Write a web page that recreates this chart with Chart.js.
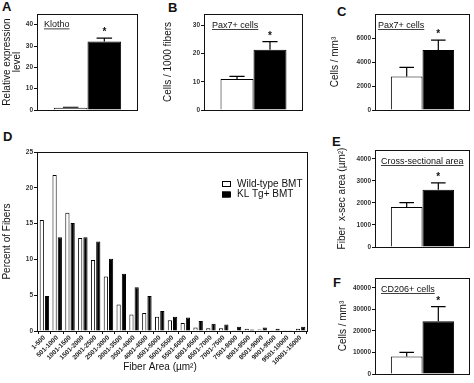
<!DOCTYPE html>
<html>
<head>
<meta charset="utf-8">
<script src="https://cdn.jsdelivr.net/npm/chart.js@4.4.1/dist/chart.umd.min.js"></script>
<style>
  body { margin: 0; background: #fff; width: 474px; height: 383px; overflow: hidden; position: relative; font-family: "Liberation Sans", Arial, sans-serif; }
  .pane { position: absolute; }
  .tag { position: absolute; font-weight: bold; font-size: 13px; line-height: 1; color: #111; }
</style>
</head>
<body>
<div class="tag" style="left:2px;top:0px">A</div>
<div class="tag" style="left:168px;top:1px">B</div>
<div class="tag" style="left:337px;top:5px">C</div>
<div class="tag" style="left:3px;top:130px">D</div>
<div class="tag" style="left:332px;top:135px">E</div>
<div class="tag" style="left:333px;top:276px">F</div>

<div class="pane" style="left:0;top:0;width:145px;height:125px"><canvas id="chartA"></canvas></div>
<div class="pane" style="left:158px;top:0;width:152px;height:125px"><canvas id="chartB"></canvas></div>
<div class="pane" style="left:325px;top:0;width:149px;height:125px"><canvas id="chartC"></canvas></div>
<div class="pane" style="left:0;top:135px;width:320px;height:241px"><canvas id="chartD"></canvas></div>
<div class="pane" style="left:325px;top:135px;width:149px;height:125px"><canvas id="chartE"></canvas></div>
<div class="pane" style="left:325px;top:262px;width:149px;height:121px"><canvas id="chartF"></canvas></div>

<script>
// datos de cada panel
const groups = ['Wild-type BMT', 'KL Tg+ BMT'];

const klothoMean = [1.0, 32.1];
const klothoErr = [0.3, 1.6];
const klothoTicks = [0, 10, 20, 30, 40];

const pax7FiberMean = [11.0, 21.3];
const pax7FiberErr = [0.9, 2.9];
const pax7FiberTicks = [0, 10, 20, 30];

const pax7VolMean = [2800, 5000];
const pax7VolErr = [750, 820];
const pax7VolTicks = [0, 2000, 4000, 6000];

const csaMean = [1820, 2600];
const csaErr = [190, 310];
const csaTicks = [0, 1000, 2000, 3000, 4000];

const cd206Mean = [8100, 24500];
const cd206Err = [1900, 6700];
const cd206Ticks = [0, 10000, 20000, 30000, 40000];

const fiberBins = ['1-500', '501-1000', '1001-1500', '1501-2000', '2001-2500', '2501-3000',
  '3001-3500', '3501-4000', '4001-4500', '4501-5000', '5001-5500', '5501-6000', '6001-6500',
  '6501-7000', '7001-7500', '7501-8000', '8001-8500', '8501-9000', '9001-9500', '9501-10000',
  '10001-15000'];
const wildTypePct = [15.5, 21.8, 16.5, 13.0, 9.9, 7.6, 3.7, 2.3, 2.5, 2.0, 1.5, 1.1, 0.5, 0.4, 0.4, 0.1, 0.3, 0.2, 0.1, 0.1, 0.3];
const klTgPct = [4.9, 13.1, 15.1, 13.1, 12.5, 10.1, 8.0, 6.1, 4.9, 2.8, 2.0, 1.9, 1.4, 1.0, 0.9, 0.6, 0.2, 0.5, 0.3, 0.1, 0.6];
const pctTicks = [0, 5, 10, 15, 20, 25];

const FONT = '"Liberation Sans", Arial, sans-serif';
Chart.defaults.font.family = FONT;
Chart.defaults.color = '#222';
Chart.defaults.animation = false;

// marco completo alrededor del area del grafico
const boxFrame = {
  id: 'boxFrame',
  afterDraw(chart) {
    const a = chart.chartArea, ctx = chart.ctx;
    ctx.save();
    ctx.strokeStyle = '#111';
    ctx.lineWidth = 1;
    ctx.strokeRect(Math.round(a.left) - 0.5, Math.round(a.top) + 0.5,
      Math.round(a.right) - Math.round(a.left) + 1, Math.round(a.bottom) - Math.round(a.top));
    ctx.restore();
  }
};

// barras de error (solo hacia arriba) y asterisco
const errorBars = {
  id: 'errorBars',
  afterDatasetsDraw(chart, args, opts) {
    if (!opts.errors) return;
    const ctx = chart.ctx, y = chart.scales.y;
    ctx.save();
    ctx.strokeStyle = '#000';
    ctx.lineWidth = 1.2;
    let starX = 0, starY = 0;
    chart.data.datasets.forEach((ds, i) => {
      chart.getDatasetMeta(i).data.forEach((bar, j) => {
        const top = y.getPixelForValue(ds.data[j] + opts.errors[i][j]);
        const half = bar.width * 0.23;
        ctx.beginPath();
        ctx.moveTo(bar.x, bar.y);
        ctx.lineTo(bar.x, top);
        ctx.moveTo(bar.x - half, top);
        ctx.lineTo(bar.x + half, top);
        ctx.stroke();
        starX = bar.x; starY = top;
      });
    });
    if (opts.star) {
      ctx.fillStyle = '#111';
      ctx.font = 'bold 10px ' + FONT;
      ctx.textAlign = 'center';
      ctx.textBaseline = 'alphabetic';
      ctx.fillText('*', starX, starY - 3);
    }
    ctx.restore();
  }
};

// titulo subrayado dentro del panel
const panelNote = {
  id: 'panelNote',
  afterDraw(chart, args, opts) {
    if (!opts.text) return;
    const ctx = chart.ctx, a = chart.chartArea;
    ctx.save();
    ctx.font = '9px ' + FONT;
    ctx.fillStyle = '#111';
    ctx.textBaseline = 'alphabetic';
    const x = a.left + opts.dx, yb = a.top + opts.dy;
    ctx.fillText(opts.text, x, yb);
    const w = ctx.measureText(opts.text).width;
    ctx.fillRect(x, yb + 1.5, w, 0.8);
    ctx.restore();
  }
};

// leyenda con cuadritos para el panel D
const boxLegend = {
  id: 'boxLegend',
  afterDraw(chart, args, opts) {
    if (!opts.show) return;
    const ctx = chart.ctx, a = chart.chartArea;
    ctx.save();
    chart.data.datasets.forEach((ds, i) => {
      const x = a.right - opts.right, yc = a.top + opts.top + i * 10.5;
      ctx.fillStyle = ds.backgroundColor;
      ctx.fillRect(x, yc - 3, 8, 6);
      ctx.strokeStyle = '#000';
      ctx.lineWidth = 1;
      ctx.strokeRect(x + 0.5, yc - 2.5, 8, 5);
      ctx.fillStyle = '#111';
      ctx.font = '10px ' + FONT;
      ctx.textBaseline = 'middle';
      ctx.fillText(ds.label, x + 15, yc);
    });
    ctx.restore();
  }
};

function fixedTicks(values) {
  return s => { s.ticks = values.map(v => ({ value: v })); };
}

function smallPanel(id, mean, err, ticks, yMax, yTitle, titlePad, layout, note) {
  new Chart(document.getElementById(id), {
    type: 'bar',
    data: {
      labels: [''],
      datasets: [
        { label: groups[0], data: [mean[0]], backgroundColor: '#fff', borderColor: '#000', borderWidth: 1, barPercentage: 1, categoryPercentage: 0.68 },
        { label: groups[1], data: [mean[1]], backgroundColor: '#000', borderColor: '#000', borderWidth: 1, barPercentage: 1, categoryPercentage: 0.68 }
      ]
    },
    options: {
      responsive: true,
      maintainAspectRatio: false,
      layout: { padding: { top: layout.top, right: layout.right, left: 0, bottom: 0 } },
      plugins: {
        legend: { display: false },
        tooltip: { enabled: false },
        errorBars: { errors: [[err[0]], [err[1]]], star: true },
        panelNote: note
      },
      scales: {
        x: {
          afterFit: s => { s.height = layout.xh; },
          grid: { display: false },
          border: { display: false },
          ticks: { display: false }
        },
        y: {
          min: 0,
          max: yMax,
          afterFit: s => { s.width = layout.yw; },
          afterBuildTicks: fixedTicks(ticks),
          border: { display: false },
          grid: { drawOnChartArea: false, tickLength: 4, tickColor: '#111' },
          ticks: { font: { size: 6.5, weight: 'bold' }, color: '#333', padding: 1, callback: v => String(v) },
          title: { display: true, text: yTitle, color: '#111', font: { size: 10, lineHeight: 1 }, padding: { top: titlePad, bottom: 0 } }
        }
      }
    },
    plugins: [errorBars, panelNote, boxFrame]
  });
}

smallPanel('chartA', klothoMean, klothoErr, klothoTicks, 45, ['Relative expression', 'level'], 2,
  { top: 14, right: 8, xh: 15, yw: 38 }, { text: 'Klotho', dx: 6, dy: 13 });
smallPanel('chartB', pax7FiberMean, pax7FiberErr, pax7FiberTicks, 34, 'Cells / 1000 fibers', 5,
  { top: 14, right: 8, xh: 15, yw: 47 }, { text: 'Pax7+ cells', dx: 7, dy: 13.5 });
smallPanel('chartC', pax7VolMean, pax7VolErr, pax7VolTicks, 8000, 'Cells / mm³', 5,
  { top: 14, right: 5, xh: 15, yw: 51 }, { text: 'Pax7+ cells', dx: 2, dy: 13.5 });
smallPanel('chartE', csaMean, csaErr, csaTicks, 4400, 'Fiber  x-sec area (µm²)', 12,
  { top: 15, right: 5, xh: 13, yw: 51 }, { text: 'Cross-sectional area', dx: 5, dy: 13.5 });
smallPanel('chartF', cd206Mean, cd206Err, cd206Ticks, 44500, 'Cells / mm³', 13,
  { top: 16, right: 5, xh: 9, yw: 51 }, { text: 'CD206+ cells', dx: 5, dy: 13.5 });

// Panel D: histograma de areas de fibra
new Chart(document.getElementById('chartD'), {
  type: 'bar',
  data: {
    labels: fiberBins,
    datasets: [
      { label: groups[0], data: wildTypePct, backgroundColor: '#fff', borderColor: '#000', borderWidth: 1, barPercentage: 0.8, categoryPercentage: 0.82 },
      { label: groups[1], data: klTgPct, backgroundColor: '#000', borderColor: '#000', borderWidth: 1, barPercentage: 0.8, categoryPercentage: 0.82 }
    ]
  },
  options: {
    responsive: true,
    maintainAspectRatio: false,
    layout: { padding: { top: 17, right: 13, left: 0, bottom: 0 } },
    plugins: {
      legend: { display: false },
      tooltip: { enabled: false },
      boxLegend: { show: true, right: 85, top: 32 }
    },
    scales: {
      x: {
        afterFit: s => { s.height = 45; },
        border: { display: false },
        grid: { drawOnChartArea: false, tickLength: 3, tickColor: '#111' },
        ticks: { font: { size: 6.5, weight: 'bold' }, color: '#222', minRotation: 45, maxRotation: 45, autoSkip: false, padding: 0 },
        // espacios al final para correr el titulo a la izquierda como en el original
        title: { display: true, text: 'Fiber Area (µm²)' + '\u00a0'.repeat(9), color: '#111', font: { size: 10 }, padding: { top: 0, bottom: 3 } }
      },
      y: {
        min: 0,
        max: 25,
        afterFit: s => { s.width = 38; },
        afterBuildTicks: fixedTicks(pctTicks),
        border: { display: false },
        grid: { drawOnChartArea: false, tickLength: 4, tickColor: '#111' },
        ticks: { font: { size: 6.5, weight: 'bold' }, color: '#333', padding: 1 },
        title: { display: true, text: 'Percent of Fibers', color: '#111', font: { size: 10 }, padding: { top: 1, bottom: 0 } }
      }
    }
  },
  plugins: [boxLegend, boxFrame]
});
</script>
</body>
</html>
